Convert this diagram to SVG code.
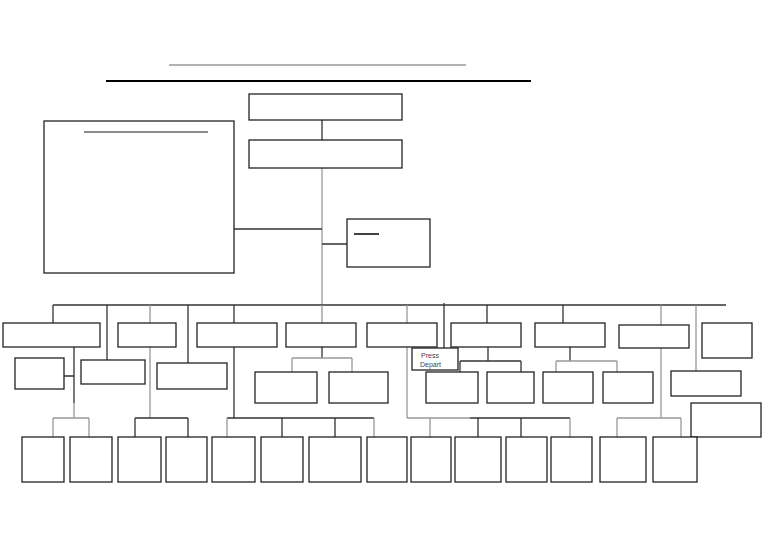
<svg xmlns="http://www.w3.org/2000/svg" width="768" height="543" viewBox="0 0 768 543">
<style>
.n{fill:#fff;stroke:#222;stroke-width:1.3}
.d{stroke:#333;stroke-width:1.3;fill:none}
.g{stroke:#999;stroke-width:1.3;fill:none}
.t{font-family:"Liberation Sans",Arial,sans-serif;font-size:7px;fill:#444}
</style>
<rect width="768" height="543" fill="#fff"/>
<line x1="169" y1="65" x2="466" y2="65" stroke="#666" stroke-width="1"/>
<line x1="106" y1="81" x2="531" y2="81" stroke="#000" stroke-width="2"/>
<g id="connectors">
<path class="d" d="M322 120V140"/>
<path class="g" d="M322 168V305"/>
<path class="d" d="M234 229H322M322 244H347"/>
<path class="d" d="M53 305H726"/>
<path class="d" d="M53 305V323M107 305V360M188 305V363M234 305V323M487 305V323M563 305V323M444 303V348"/>
<path class="g" d="M150 305V418M322 305V323M407 305V418M661 305V418M696 305V371"/>
<path class="d" d="M74 347V403M64 376H74"/>
<path class="g" d="M74 403V418M53 418H89M53 418V437M89 418V437"/>
<path class="d" d="M135 418H188M135 418V437M188 418V437"/>
<path class="d" d="M234 347V418M227 418H374M282 418V437M335 418V437"/>
<path class="g" d="M227 418V437M374 418V437"/>
<path class="g" d="M407 418H470"/>
<path class="d" d="M470 418H570M478 418V437M521 418V437"/>
<path class="g" d="M430 418V437M570 418V437"/>
<path class="d" d="M322 347V358"/>
<path class="g" d="M292 358H352M292 358V372M352 358V372"/>
<path class="d" d="M488 347V361M460 361H521M460 361V372M521 361V372"/>
<path class="d" d="M570 347V361"/>
<path class="g" d="M556 361H617M556 361V372M617 361V372"/>
<path class="g" d="M617 418H681M617 418V437M681 418V437"/>
</g>
<g id="n-top1"><rect class="n" x="249" y="94" width="153" height="26"/></g>
<g id="n-top2"><rect class="n" x="249" y="140" width="153" height="28"/></g>
<g id="n-left"><rect class="n" x="44" y="121" width="190" height="152"/><line x1="84" y1="132" x2="208" y2="132" stroke="#666" stroke-width="1.3"/></g>
<g id="n-side"><rect class="n" x="347" y="219" width="83" height="48"/><line x1="354" y1="234" x2="379" y2="234" stroke="#000" stroke-width="1.5"/></g>
<g id="row1">
<rect class="n" x="3" y="323" width="97" height="24"/>
<rect class="n" x="118" y="323" width="58" height="24"/>
<rect class="n" x="197" y="323" width="80" height="24"/>
<rect class="n" x="286" y="323" width="70" height="24"/>
<rect class="n" x="367" y="323" width="70" height="24"/>
<rect class="n" x="451" y="323" width="70" height="24"/>
<rect class="n" x="535" y="323" width="70" height="24"/>
<rect class="n" x="619" y="325" width="70" height="23"/>
<rect class="n" x="702" y="323" width="50" height="35"/>
</g>
<g id="row2">
<rect class="n" x="15" y="358" width="49" height="31"/>
<rect class="n" x="81" y="360" width="64" height="24"/>
<rect class="n" x="157" y="363" width="70" height="26"/>
<rect class="n" x="255" y="372" width="62" height="31"/>
<rect class="n" x="329" y="372" width="59" height="31"/>
<rect class="n" x="426" y="372" width="52" height="31"/>
<rect class="n" x="487" y="372" width="47" height="31"/>
<rect class="n" x="543" y="372" width="50" height="31"/>
<rect class="n" x="603" y="372" width="50" height="31"/>
<rect class="n" x="671" y="371" width="70" height="25"/>
<rect class="n" x="691" y="403" width="70" height="34"/>
</g>
<g id="n-press"><rect class="n" x="412" y="348" width="46" height="22"/><text class="t" x="421" y="358">Press</text><text class="t" x="420" y="367">Depart</text></g>
<g id="row3">
<rect class="n" x="22" y="437" width="42" height="45"/>
<rect class="n" x="70" y="437" width="42" height="45"/>
<rect class="n" x="118" y="437" width="43" height="45"/>
<rect class="n" x="166" y="437" width="41" height="45"/>
<rect class="n" x="212" y="437" width="43" height="45"/>
<rect class="n" x="261" y="437" width="42" height="45"/>
<rect class="n" x="309" y="437" width="52" height="45"/>
<rect class="n" x="367" y="437" width="40" height="45"/>
<rect class="n" x="411" y="437" width="40" height="45"/>
<rect class="n" x="455" y="437" width="46" height="45"/>
<rect class="n" x="506" y="437" width="41" height="45"/>
<rect class="n" x="551" y="437" width="41" height="45"/>
<rect class="n" x="600" y="437" width="46" height="45"/>
<rect class="n" x="653" y="437" width="44" height="45"/>
</g>
</svg>
